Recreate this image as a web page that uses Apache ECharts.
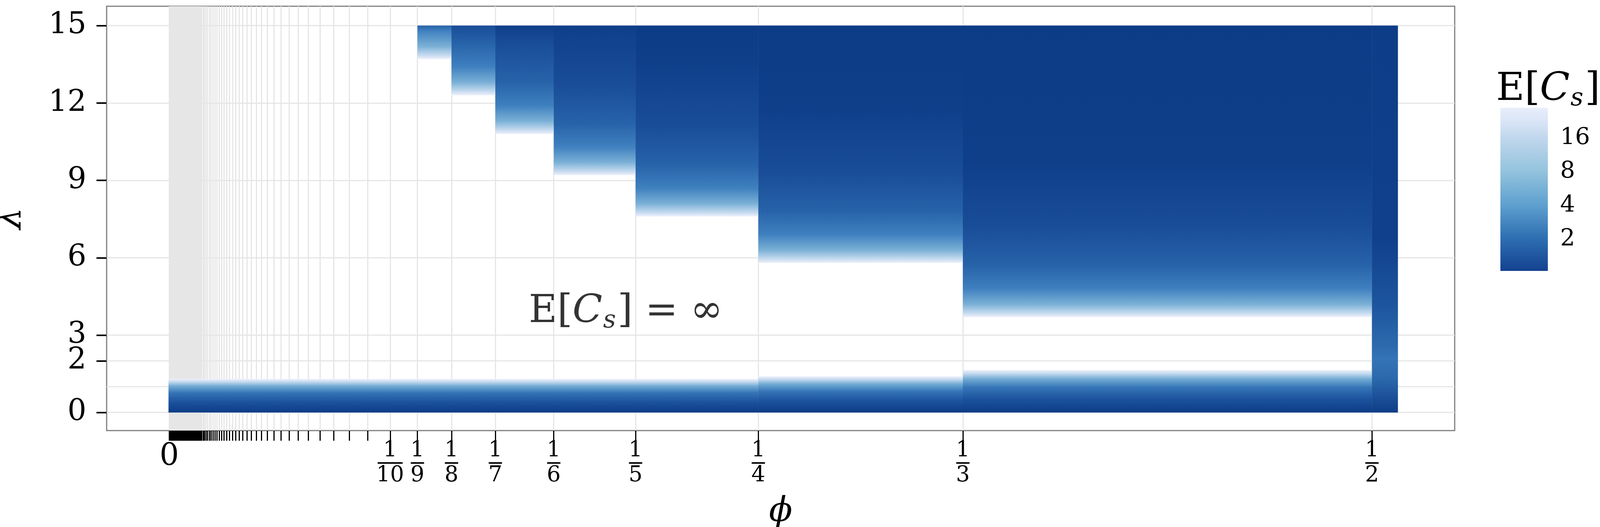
<!DOCTYPE html>
<html>
<head>
<meta charset="utf-8">
<script src="https://cdn.jsdelivr.net/npm/echarts@6/dist/echarts.min.js"></script>
<style>html,body{margin:0;padding:0;background:#fff}#main{width:4200px;height:1350px}</style>
</head>
<body>
<div id="main"></div>
<script>
// phi ticks: 1/n, n = 2..100 ; "0" is drawn at 1/100
const tickDenoms = Array.from({ length: 99 }, (_, i) => i + 2);
const labelDenoms = [2, 3, 4, 5, 6, 7, 8, 9, 10, 100];
const lambdaTicks = [0, 1, 2, 3, 6, 9, 12, 15];
const legendTicks = [2, 4, 8, 16];

// upper finite region: [phiLeft, phiRight, lambdaFrom, lambdaTo]
const upperBlocks = [
  [1 / 9, 1 / 8, 13.7, 15],
  [1 / 8, 1 / 7, 12.3, 15],
  [1 / 7, 1 / 6, 10.8, 15],
  [1 / 6, 1 / 5, 9.2, 15],
  [1 / 5, 1 / 4, 7.6, 15],
  [1 / 4, 1 / 3, 5.8, 15],
  [1 / 3, 1 / 2, 3.7, 15],
];
// lower band: [phiLeft, phiRight, lambdaFrom, lambdaTo]
const lowerBand = [
  [0.0097, 1 / 4, 0, 1.3],
  [1 / 4, 1 / 3, 0, 1.4],
  [1 / 3, 1 / 2, 0, 1.65],
];
const edgeColumn = [[1 / 2, 0.5105, 0, 15]];
const infLabel = [[0.196, 3.9]];
const legendBar = [[0, 1, 1.05, 30]];

const SERIF = '"DejaVu Serif", "Liberation Serif", serif';

// colour as a function of distance (in lambda) from the white boundary
const upperStops = [
  [0, '#eef0fc'], [0.15, '#c6dbef'], [0.5, '#7ab0d6'], [1.1, '#3f80bf'],
  [2, '#2763a9'], [3.5, '#194d98'], [6, '#0f3f89'], [20, '#0d3c86'],
];

function upperGradient(h) {
  const stops = [];
  for (const [d, c] of upperStops) {
    if (d <= h) stops.push({ offset: 1 - d / h, color: c });
  }
  const top = upperStops.find(s => s[0] > h);
  stops.push({ offset: 0, color: top ? top[1] : '#0d3c86' });
  stops.sort((a, b) => a.offset - b.offset);
  return { type: 'linear', x: 0, y: 0, x2: 0, y2: 1, colorStops: stops };
}

function rectItem(api, fill) {
  const p0 = api.coord([api.value(0), api.value(3)]);
  const p1 = api.coord([api.value(1), api.value(2)]);
  return {
    type: 'rect',
    shape: { x: p0[0], y: p0[1], width: p1[0] - p0[0] + 0.5, height: p1[1] - p0[1] },
    style: { fill: fill },
  };
}

function fracLabel(v) {
  const n = Math.round(1 / v);
  if (!labelDenoms.includes(n)) return '';
  if (n === 100) return '{z|0}';
  return '{n|1}\n{b' + (n >= 10 ? 'w' : '') + '|}\n{n|' + n + '}';
}

const chart = echarts.init(document.getElementById('main'));
chart.setOption({
  backgroundColor: '#fff',
  animation: false,
  grid: [
    { left: 273, right: 476, top: 16, bottom: 247, show: true, borderColor: '#7f7f7f', borderWidth: 3, backgroundColor: '#fff', containLabel: false, outerBoundsMode: 'none' },
    { left: 3841, width: 121, top: 276, height: 418, containLabel: false, outerBoundsMode: 'none' },
  ],
  xAxis: [
    {
      type: 'value', gridIndex: 0, min: -0.0155, max: 0.5337,
      axisLine: { show: false, onZero: false },
      axisTick: { show: true, customValues: tickDenoms.map(n => 1 / n), length: 26, lineStyle: { color: '#000', width: 3 } },
      axisLabel: {
        customValues: labelDenoms.map(n => 1 / n), margin: 22, formatter: fracLabel,
        rich: {
          n: { fontFamily: SERIF, fontSize: 56, lineHeight: 58, color: '#000', align: 'center' },
          b: { width: 34, height: 4, lineHeight: 6, backgroundColor: '#000', align: 'center' },
          bw: { width: 64, height: 4, lineHeight: 6, backgroundColor: '#000', align: 'center' },
          z: { fontFamily: SERIF, fontSize: 78, lineHeight: 80, color: '#000', padding: [12, 0, 0, 0] },
        },
      },
      splitLine: { show: true, customValues: tickDenoms.map(n => 1 / n), lineStyle: { color: '#e6e6e6', width: 3 } },
      name: 'ϕ', nameLocation: 'middle', nameGap: 165,
      nameTextStyle: { fontFamily: SERIF, fontStyle: 'italic', fontSize: 88, color: '#000' },
    },
    { type: 'value', gridIndex: 1, min: 0, max: 1, show: false },
  ],
  yAxis: [
    {
      type: 'value', gridIndex: 0, min: -0.7, max: 15.75,
      axisLine: { show: false, onZero: false },
      axisTick: { show: true, customValues: lambdaTicks, length: 26, lineStyle: { color: '#000', width: 4 } },
      axisLabel: { customValues: lambdaTicks, showMinLabel: true, hideOverlap: false, margin: 52, fontFamily: SERIF, fontSize: 76, color: '#000' },
      splitLine: { show: true, customValues: lambdaTicks, lineStyle: { color: '#e6e6e6', width: 3 } },
      name: 'λ', nameLocation: 'middle', nameGap: 200, nameRotate: 90,
      nameTextStyle: { fontFamily: SERIF, fontStyle: 'italic', fontSize: 88, color: '#000' },
    },
    {
      type: 'log', logBase: 2, gridIndex: 1, min: 1.05, max: 30, position: 'right',
      axisLine: { show: false, onZero: false },
      axisTick: { show: true, inside: true, customValues: legendTicks, length: 24, lineStyle: { color: '#fff', width: 3 } },
      axisLabel: { customValues: legendTicks, margin: 32, fontFamily: SERIF, fontSize: 60, color: '#000' },
      splitLine: { show: false },
    },
  ],
  graphic: [
    {
      type: 'text', left: 3830, top: 180, z: 10,
      style: {
        text: '{e|E[}{c|C}{s|s}{e|]}',
        rich: {
          e: { fontFamily: SERIF, fontSize: 100, fill: '#000' },
          c: { fontFamily: SERIF, fontStyle: 'italic', fontSize: 100, fill: '#000' },
          s: { fontFamily: SERIF, fontStyle: 'italic', fontSize: 64, fill: '#000', padding: [46, 4, 0, 2] },
        },
      },
    },
  ],
  series: [
    {
      type: 'custom', xAxisIndex: 0, yAxisIndex: 0, data: upperBlocks, z: 3,
      renderItem: (params, api) => rectItem(api, upperGradient(api.value(3) - api.value(2))),
    },
    {
      type: 'custom', xAxisIndex: 0, yAxisIndex: 0, data: lowerBand, z: 3,
      renderItem: (params, api) => rectItem(api, {
        type: 'linear', x: 0, y: 0, x2: 0, y2: 1,
        colorStops: [
          { offset: 0, color: '#eef0fc' }, { offset: 0.08, color: '#c6dbef' },
          { offset: 0.22, color: '#6fa9d3' }, { offset: 0.42, color: '#3473b6' },
          { offset: 0.7, color: '#1b519c' }, { offset: 1, color: '#0d3c86' },
        ],
      }),
    },
    {
      type: 'custom', xAxisIndex: 0, yAxisIndex: 0, data: edgeColumn, z: 3,
      renderItem: (params, api) => rectItem(api, {
        type: 'linear', x: 0, y: 0, x2: 0, y2: 1,
        colorStops: [
          { offset: 0, color: '#0e3d88' }, { offset: 0.55, color: '#10408b' },
          { offset: 0.72, color: '#1c559e' }, { offset: 0.83, color: '#2c6aad' },
          { offset: 0.86, color: '#3574b6' }, { offset: 0.91, color: '#2c69ac' },
          { offset: 1, color: '#0e3d88' },
        ],
      }),
    },
    {
      type: 'scatter', xAxisIndex: 0, yAxisIndex: 0, data: infLabel, symbolSize: 0, z: 5,
      label: {
        show: true, position: 'inside',
        formatter: '{e|E[}{c|C}{s|s}{e|] = ∞}',
        rich: {
          e: { fontFamily: SERIF, fontSize: 100, color: '#000' },
          c: { fontFamily: SERIF, fontStyle: 'italic', fontSize: 100, color: '#000' },
          s: { fontFamily: SERIF, fontStyle: 'italic', fontSize: 64, color: '#000', padding: [46, 4, 0, 2] },
        },
      },
    },
    {
      type: 'custom', xAxisIndex: 1, yAxisIndex: 1, data: legendBar, z: 2,
      renderItem: (params, api) => rectItem(api, {
        type: 'linear', x: 0, y: 0, x2: 0, y2: 1,
        colorStops: [
          { offset: 0, color: '#e8eefb' }, { offset: 0.1, color: '#d6e3f5' },
          { offset: 0.19, color: '#bfd6ec' }, { offset: 0.39, color: '#93c3dd' },
          { offset: 0.6, color: '#5d9fcf' }, { offset: 0.8, color: '#2e6eb2' },
          { offset: 1, color: '#13428f' },
        ],
      }),
    },
  ],
});
</script>
</body>
</html>
